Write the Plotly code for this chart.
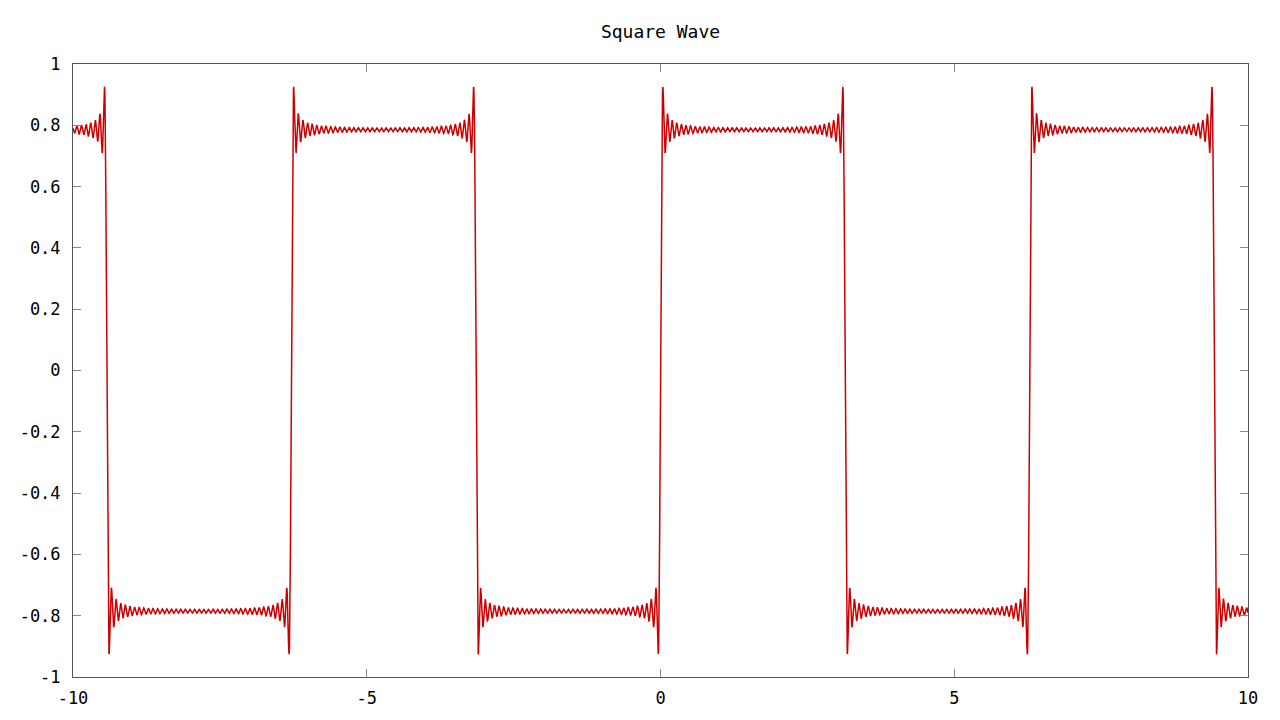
import numpy as np
import plotly.graph_objects as go

# Fourier partial sum of a square wave: odd harmonics with amplitude 1/k
harmonics = list(range(1, 80, 2))
amplitudes = [1.0 / k for k in harmonics]
x_min, x_max = -10, 10
n_samples = 5000

x_ticks = [-10, -5, 0, 5, 10]
x_labels = ["-10", "-5", "0", "5", "10"]
y_ticks = [-1, -0.8, -0.6, -0.4, -0.2, 0, 0.2, 0.4, 0.6, 0.8, 1]
y_labels = ["-1", "-0.8", "-0.6", "-0.4", "-0.2", "0", "0.2", "0.4", "0.6", "0.8", "1"]

x = np.linspace(x_min, x_max, n_samples)
y = np.zeros_like(x)
for k, a in zip(harmonics, amplitudes):
    y += a * np.sin(k * x)

fig = go.Figure()
fig.add_trace(go.Scatter(x=x, y=y, mode="lines",
                         line=dict(color="#cc0000", width=1.5),
                         showlegend=False))

axis_style = dict(
    showgrid=False, zeroline=False,
    showline=True, linecolor="#555555", linewidth=1, mirror="ticks",
    ticks="inside", ticklen=8, tickwidth=1, tickcolor="#888888",
    tickfont=dict(family="DejaVu Sans Mono", size=17, color="black"),
)

fig.update_layout(
    width=1280, height=720,
    margin=dict(l=61, r=40, t=56, b=51),
    paper_bgcolor="white", plot_bgcolor="white",
    title=dict(text="Square Wave", xref="paper", x=0.5, xanchor="center",
               y=1 - 24 / 720, yanchor="middle",
               font=dict(family="DejaVu Sans Mono", size=18, color="black")),
    xaxis=dict(range=[x_min, x_max], tickvals=x_ticks, ticktext=x_labels,
               ticklabelstandoff=6, **axis_style),
    yaxis=dict(range=[-1, 1], tickvals=y_ticks, ticktext=y_labels,
               ticklabelstandoff=8, **axis_style),
)

fig.write_html("out.html")
